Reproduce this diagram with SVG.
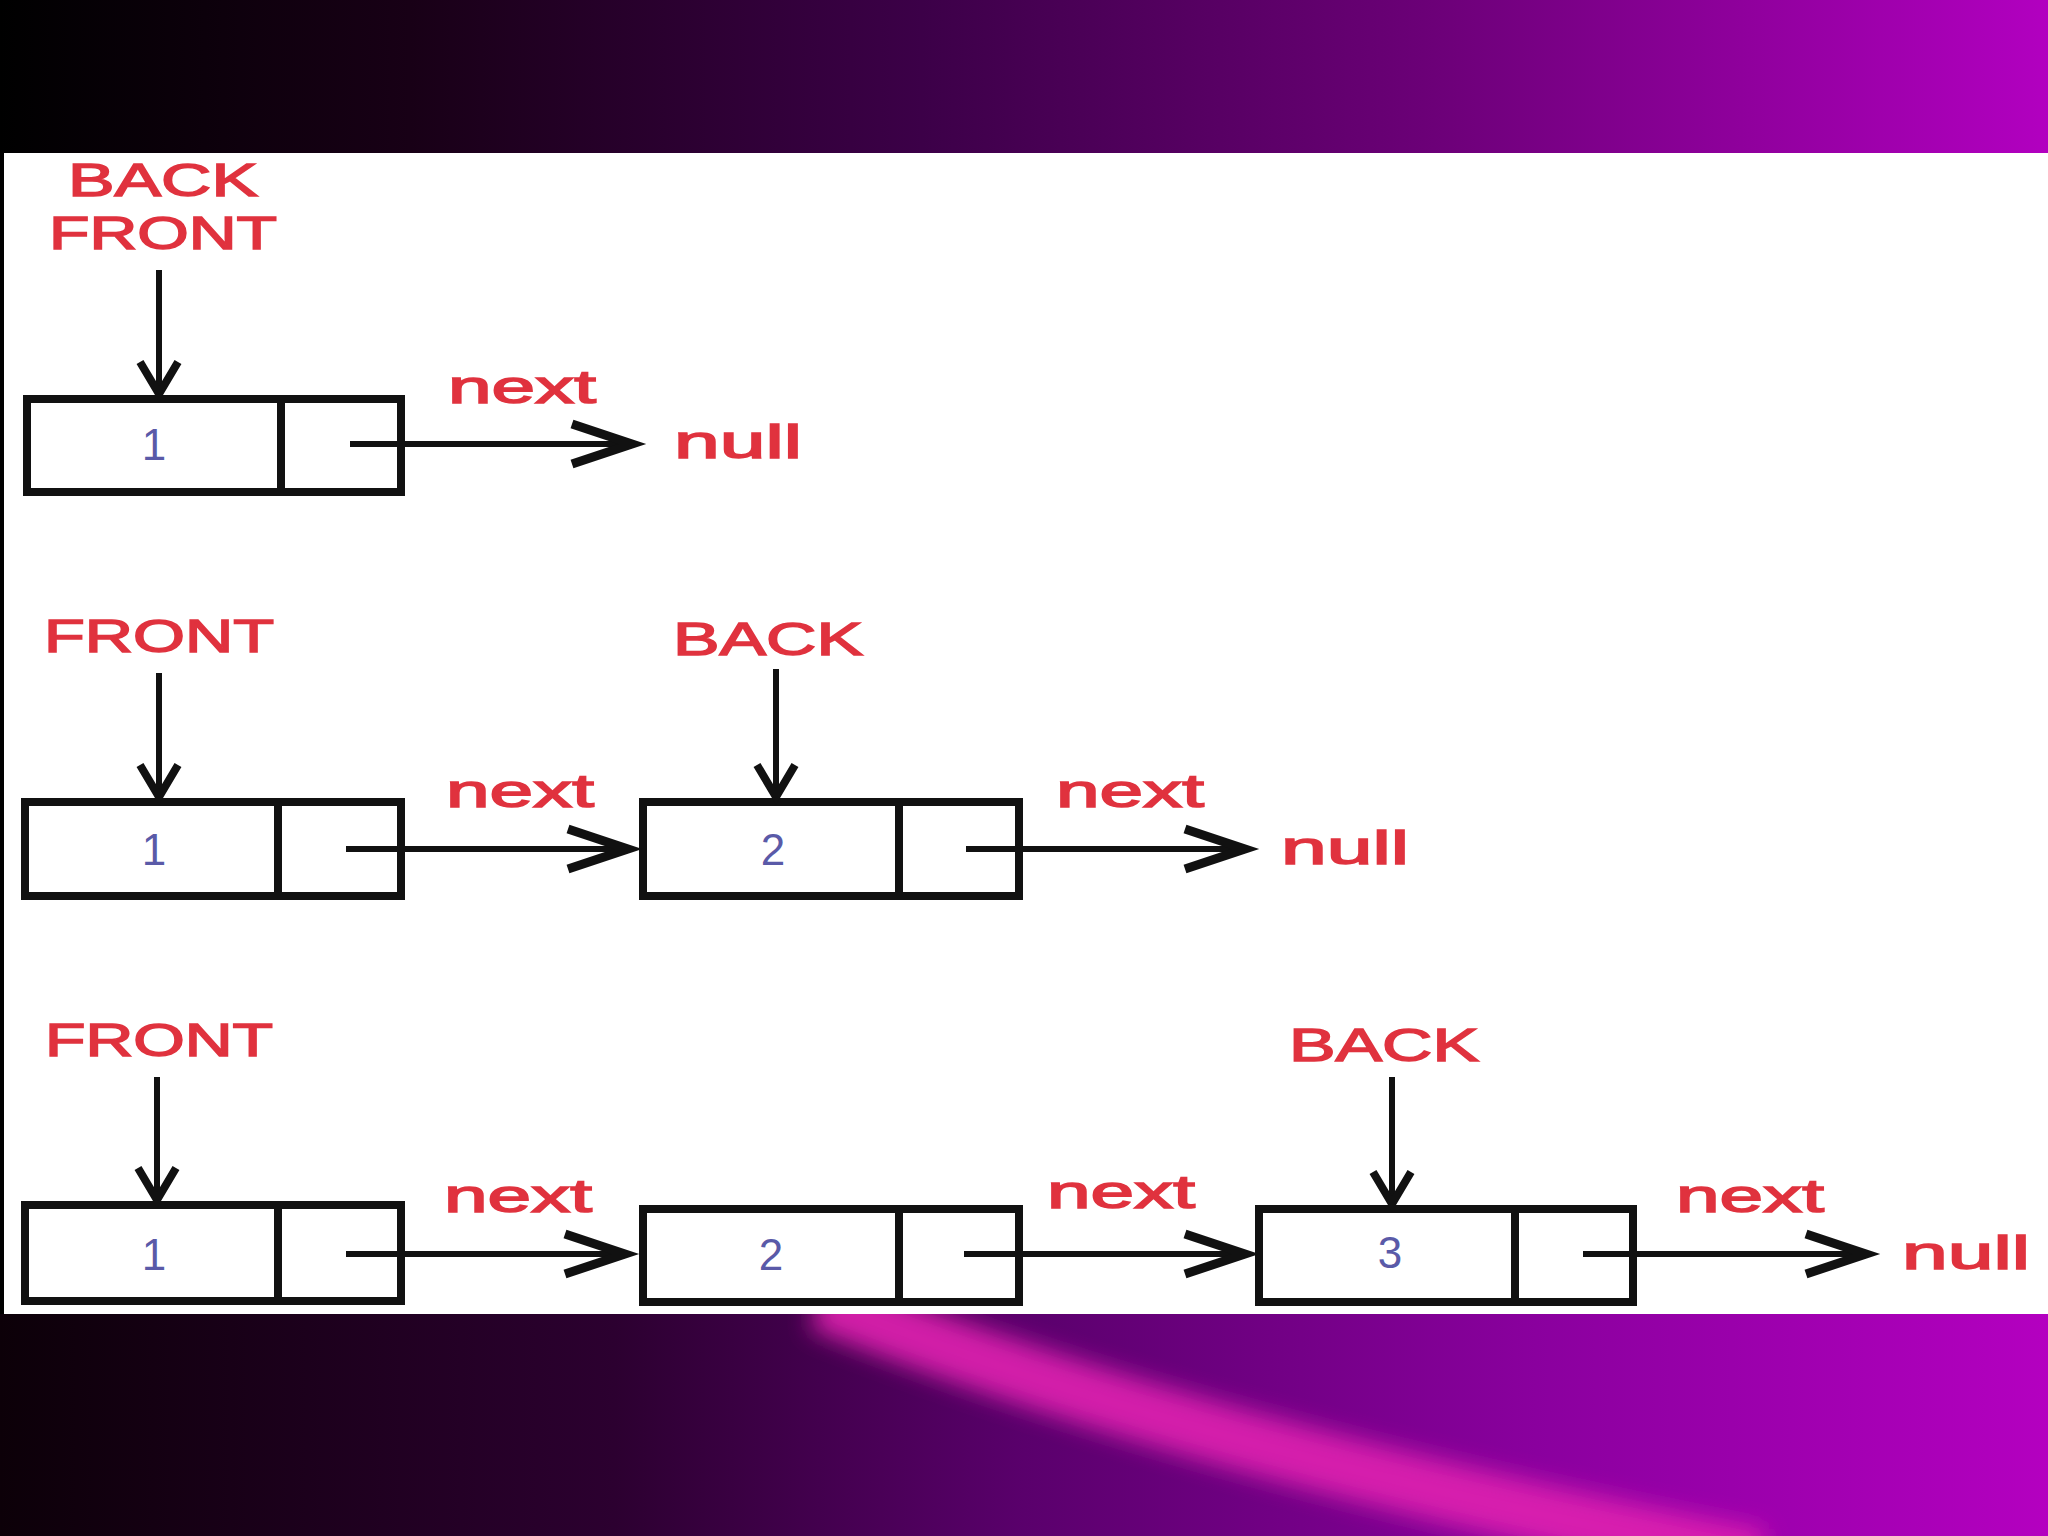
<svg xmlns="http://www.w3.org/2000/svg" width="2048" height="1536" viewBox="0 0 2048 1536">
<style>
.box{fill:#ffffff;stroke:#111111;stroke-width:8}
.div{stroke:#111111;stroke-width:8}
.lbl{font-family:"Liberation Sans",Arial,sans-serif;font-size:46px;fill:#e0323e;stroke:#e0323e;stroke-width:1.5;text-anchor:middle}
.num{font-family:"Liberation Sans",Arial,sans-serif;font-size:44px;fill:#5a5aa8;text-anchor:middle}
.h{stroke:#111111;stroke-width:6;fill:none;marker-end:url(#ah)}
.v{stroke:#111111;stroke-width:6;fill:none;marker-end:url(#av)}
</style>
<defs>
<linearGradient id="topg" x1="0" y1="0" x2="1" y2="0">
<stop offset="0" stop-color="#000000"/>
<stop offset="0.2" stop-color="#180016"/>
<stop offset="0.45" stop-color="#3c0048"/>
<stop offset="0.7" stop-color="#6c0078"/>
<stop offset="1" stop-color="#b200c0"/>
</linearGradient>
<linearGradient id="botg" x1="0" y1="0" x2="1" y2="0">
<stop offset="0" stop-color="#0c0008"/>
<stop offset="0.3" stop-color="#2c0030"/>
<stop offset="0.5" stop-color="#5a006c"/>
<stop offset="0.75" stop-color="#8a009e"/>
<stop offset="1" stop-color="#b400c0"/>
</linearGradient>
<filter id="blur" x="-20%" y="-20%" width="140%" height="140%"><feGaussianBlur stdDeviation="12"/></filter>
<marker id="ah" markerUnits="userSpaceOnUse" markerWidth="90" markerHeight="60" refX="0" refY="0" viewBox="-70 -30 80 60" orient="auto">
<path d="M-60,-20 L0,0 L-60,20" fill="none" stroke="#111111" stroke-width="9" stroke-linejoin="miter"/>
</marker>
<marker id="av" markerUnits="userSpaceOnUse" markerWidth="60" markerHeight="60" refX="0" refY="0" viewBox="-40 -30 50 60" orient="auto">
<path d="M-32,-19 L0,0 L-32,19" fill="none" stroke="#111111" stroke-width="8"/>
</marker>
</defs>
<g id="background">
<rect x="0" y="0" width="2048" height="1536" fill="#000000"/>
<rect x="0" y="0" width="2048" height="153" fill="url(#topg)"/>
<rect x="0" y="1314" width="2048" height="222" fill="url(#botg)"/>
<path d="M820,1300 C1020,1380 1300,1470 1760,1560" stroke="#e020b0" stroke-width="60" fill="none" filter="url(#blur)" opacity="0.9"/>
<rect x="4" y="153" width="2044" height="1161" fill="#ffffff"/>
</g>
<g id="row1">
<g id="r1-front-back"><text class="lbl" x="163" y="196" textLength="190" lengthAdjust="spacingAndGlyphs">BACK</text><text class="lbl" x="163" y="249" textLength="228" lengthAdjust="spacingAndGlyphs">FRONT</text></g>
<g id="r1-node1"><rect class="box" x="27" y="399" width="374" height="93"/><line class="div" x1="281" y1="399" x2="281" y2="492"/><text class="num" x="154" y="460">1</text></g>
<text class="lbl" x="522" y="403" textLength="148" lengthAdjust="spacingAndGlyphs">next</text>
<text class="lbl" x="738" y="458" textLength="128" lengthAdjust="spacingAndGlyphs">null</text>
</g>
<g id="row2">
<text class="lbl" x="159" y="652" textLength="230" lengthAdjust="spacingAndGlyphs">FRONT</text>
<text class="lbl" x="768" y="655" textLength="190" lengthAdjust="spacingAndGlyphs">BACK</text>
<g id="r2-node1"><rect class="box" x="25" y="802" width="376" height="94"/><line class="div" x1="278" y1="802" x2="278" y2="896"/><text class="num" x="154" y="865">1</text></g>
<g id="r2-node2"><rect class="box" x="643" y="802" width="376" height="94"/><line class="div" x1="899" y1="802" x2="899" y2="896"/><text class="num" x="773" y="865">2</text></g>
<text class="lbl" x="520" y="807" textLength="148" lengthAdjust="spacingAndGlyphs">next</text>
<text class="lbl" x="1130" y="807" textLength="148" lengthAdjust="spacingAndGlyphs">next</text>
<text class="lbl" x="1345" y="864" textLength="128" lengthAdjust="spacingAndGlyphs">null</text>
</g>
<g id="row3">
<text class="lbl" x="159" y="1056" textLength="228" lengthAdjust="spacingAndGlyphs">FRONT</text>
<text class="lbl" x="1384" y="1061" textLength="190" lengthAdjust="spacingAndGlyphs">BACK</text>
<g id="r3-node1"><rect class="box" x="25" y="1205" width="376" height="96"/><line class="div" x1="278" y1="1205" x2="278" y2="1301"/><text class="num" x="154" y="1270">1</text></g>
<g id="r3-node2"><rect class="box" x="643" y="1209" width="376" height="93"/><line class="div" x1="899" y1="1209" x2="899" y2="1302"/><text class="num" x="771" y="1270">2</text></g>
<g id="r3-node3"><rect class="box" x="1259" y="1209" width="374" height="93"/><line class="div" x1="1515" y1="1209" x2="1515" y2="1302"/><text class="num" x="1390" y="1268">3</text></g>
<text class="lbl" x="518" y="1212" textLength="148" lengthAdjust="spacingAndGlyphs">next</text>
<text class="lbl" x="1121" y="1208" textLength="148" lengthAdjust="spacingAndGlyphs">next</text>
<text class="lbl" x="1750" y="1212" textLength="148" lengthAdjust="spacingAndGlyphs">next</text>
<text class="lbl" x="1966" y="1269" textLength="128" lengthAdjust="spacingAndGlyphs">null</text>
</g>
<g id="connectors">
<line class="v" x1="159" y1="270" x2="159" y2="394"/>
<line class="h" x1="350" y1="444" x2="632" y2="444"/>
<line class="v" x1="159" y1="673" x2="159" y2="797"/>
<line class="v" x1="776" y1="669" x2="776" y2="797"/>
<line class="h" x1="346" y1="849" x2="628" y2="849"/>
<line class="h" x1="966" y1="849" x2="1245" y2="849"/>
<line class="v" x1="157" y1="1077" x2="157" y2="1200"/>
<line class="v" x1="1392" y1="1077" x2="1392" y2="1204"/>
<line class="h" x1="346" y1="1254" x2="625" y2="1254"/>
<line class="h" x1="964" y1="1254" x2="1245" y2="1254"/>
<line class="h" x1="1583" y1="1254" x2="1866" y2="1254"/>
</g>
</svg>
